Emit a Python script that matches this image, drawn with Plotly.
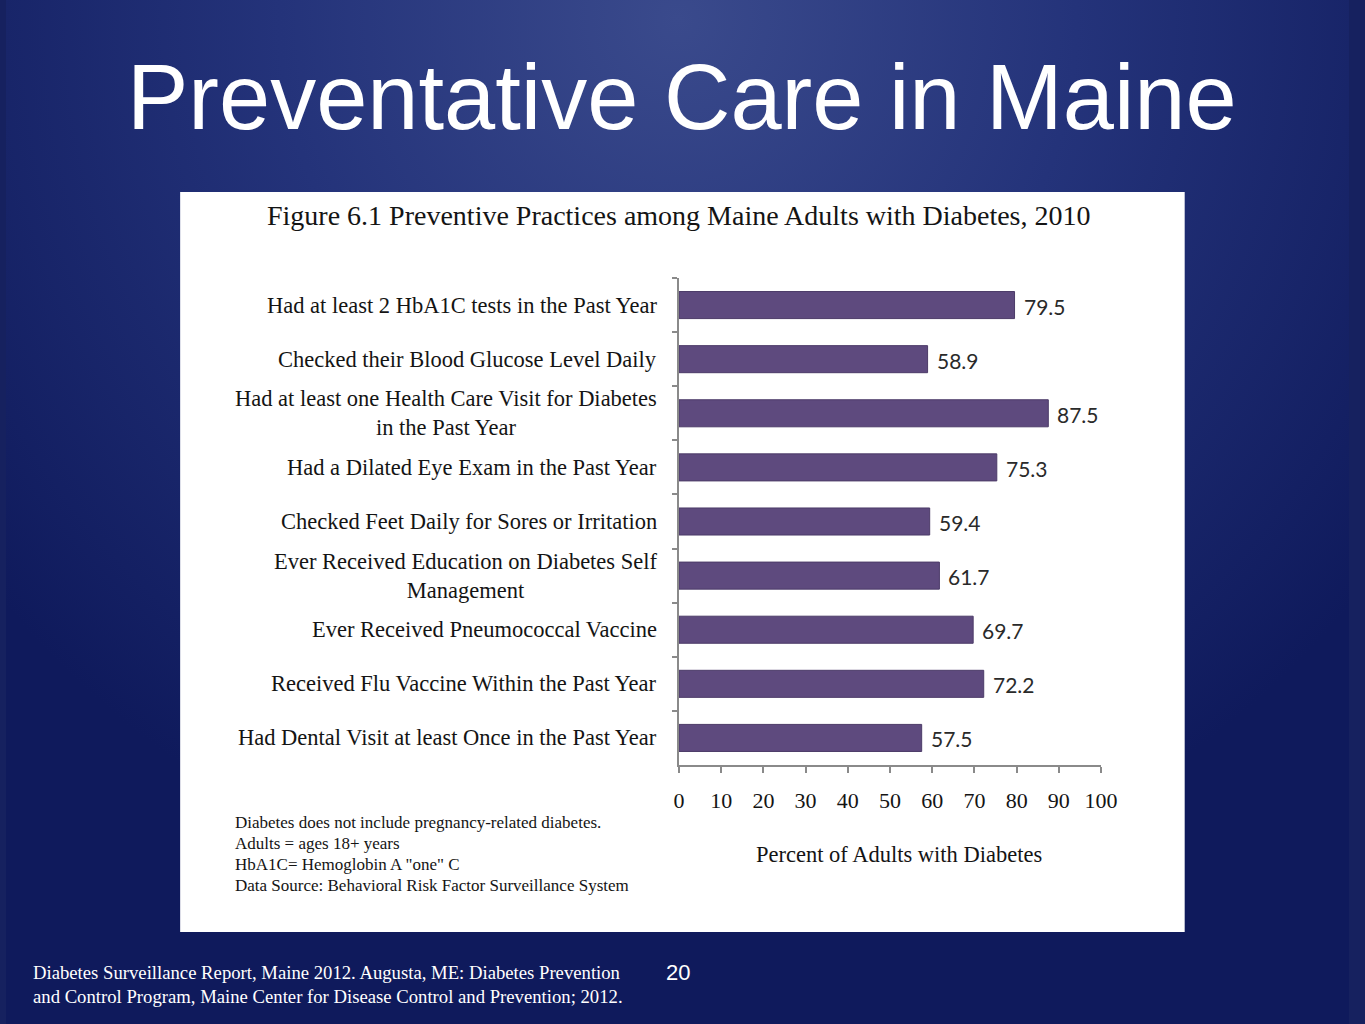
import base64
import plotly.graph_objects as go

categories = [
    "Had at least 2 HbA1C tests in the Past Year",
    "Checked their Blood Glucose Level Daily",
    "Had at least one Health Care Visit for Diabetes<br>in the Past Year",
    "Had a Dilated Eye Exam in the Past Year",
    "Checked Feet Daily for Sores or Irritation",
    "Ever Received Education on Diabetes Self<br>Management",
    "Ever Received Pneumococcal Vaccine",
    "Received Flu Vaccine Within the Past Year",
    "Had Dental Visit at least Once in the Past Year",
]
values = [79.5, 58.9, 87.5, 75.3, 59.4, 61.7, 69.7, 72.2, 57.5]
x_ticks = [0, 10, 20, 30, 40, 50, 60, 70, 80, 90, 100]
notes = [
    "Diabetes does not include pregnancy-related diabetes.",
    "Adults = ages 18+ years",
    'HbA1C= Hemoglobin A "one" C',
    "Data Source: Behavioral Risk Factor Surveillance System",
]

W, H = 1365, 1024
def px(x):
    return x / W
def py(y):
    return 1 - y / H

SERIF = "Liberation Serif, Times New Roman, serif"
SANS = "Liberation Sans, Arial, sans-serif"
INK = "#141414"

svg = f'''<svg xmlns="http://www.w3.org/2000/svg" width="{W}" height="{H}">
<defs><radialGradient id="g" cx="683" cy="20" r="900" gradientUnits="userSpaceOnUse">
<stop offset="0" stop-color="#3a4a8c"/><stop offset="0.45" stop-color="#24337a"/>
<stop offset="1" stop-color="#0f1a5c"/></radialGradient></defs>
<rect width="{W}" height="{H}" fill="url(#g)"/></svg>'''
bg_uri = "data:image/svg+xml;base64," + base64.b64encode(svg.encode()).decode()

fig = go.Figure()
fig.add_trace(go.Bar(
    x=values, y=categories, orientation="h",
    marker=dict(color="#5e4a7e", line=dict(color="#4c3b68", width=1)),
    width=0.5, hoverinfo="skip",
))

annotations = []
for c in categories:
    annotations.append(dict(
        x=px(664), y=c, xref="paper", yref="y", xanchor="right", yanchor="middle",
        text=c, align="center", showarrow=False,
        font=dict(family=SERIF, size=22.5, color=INK),
    ))
for c, v in zip(categories, values):
    annotations.append(dict(
        x=v, y=c, xref="x", yref="y", xanchor="left", yanchor="middle", xshift=7, yshift=-1,
        text=f"{v:.1f}", showarrow=False,
        font=dict(family="Lato, Liberation Sans, sans-serif", size=21, color="#2a2a2a"),
    ))
annotations.append(dict(
    x=px(684), y=py(215), xref="paper", yref="paper", xanchor="center", yanchor="middle",
    text="Figure 6.1 Preventive Practices among Maine Adults with Diabetes, 2010",
    showarrow=False, font=dict(family=SERIF, size=28, color=INK),
))
annotations.append(dict(
    x=px(908), y=py(854), xref="paper", yref="paper", xanchor="center", yanchor="middle",
    text="Percent of Adults with Diabetes", showarrow=False,
    font=dict(family=SERIF, size=22.5, color=INK),
))
for i, n in enumerate(notes):
    annotations.append(dict(
        x=px(231), y=py(822 + 21 * i), xref="paper", yref="paper", xanchor="left", yanchor="middle",
        text=n, showarrow=False, font=dict(family=SERIF, size=17, color=INK),
    ))
annotations.append(dict(
    x=px(687), y=py(97), xref="paper", yref="paper", xanchor="center", yanchor="middle",
    text="Preventative Care in Maine", showarrow=False,
    font=dict(family=SANS, size=92, color="white"),
))
annotations.append(dict(
    x=px(25), y=py(984), xref="paper", yref="paper", xanchor="left", yanchor="middle",
    text="Diabetes Surveillance Report, Maine 2012. Augusta, ME: Diabetes Prevention<br>"
         "and Control Program, Maine Center for Disease Control and Prevention; 2012.",
    align="left", showarrow=False, font=dict(family=SERIF, size=18.7, color="white"),
))
annotations.append(dict(
    x=px(683), y=py(972), xref="paper", yref="paper", xanchor="center", yanchor="middle",
    text="20", showarrow=False, font=dict(family=SANS, size=22, color="white"),
))

fig.update_layout(
    autosize=True, margin=dict(l=0, r=0, t=0, b=0),
    paper_bgcolor="#16215f", plot_bgcolor="rgba(0,0,0,0)",
    showlegend=False,
    images=[dict(source=bg_uri, xref="paper", yref="paper", x=0, y=1, sizex=1, sizey=1,
                 xanchor="left", yanchor="top", sizing="stretch", layer="below")],
    shapes=[dict(type="rect", xref="paper", yref="paper", x0=px(177), x1=px(1198),
                 y0=py(932), y1=py(192), fillcolor="white", line=dict(width=0), layer="below")],
    annotations=annotations,
    xaxis=dict(domain=[px(684), px(1113)], range=[0, 100], tickvals=x_ticks,
               showgrid=False, zeroline=False, showline=True, linecolor="#8a8a8a", linewidth=1.5,
               ticks="outside", ticklen=6, tickcolor="#8a8a8a", tickwidth=1.5,
               ticklabelstandoff=9,
               tickfont=dict(family=SERIF, size=22, color=INK), fixedrange=True),
    yaxis=dict(domain=[py(765), py(278)], autorange="reversed", categoryorder="array",
               categoryarray=categories, showticklabels=False, showgrid=False, zeroline=False,
               showline=True, linecolor="#8a8a8a", linewidth=1.5, ticks="outside", ticklen=5,
               tickcolor="#8a8a8a", tickwidth=1.5, tickson="boundaries", fixedrange=True),
    bargap=0.5,
)

post = """
var gd = document.getElementById('{plot_id}');
document.documentElement.style.cssText = 'margin:0;padding:0;overflow:hidden;';
document.body.style.cssText = 'margin:0;padding:0;overflow:hidden;';
gd.style.width = window.innerWidth + 'px';
gd.style.height = window.innerHeight + 'px';
Plotly.Plots.resize(gd);
"""

fig.write_html(
    "out.html",
    config={"displayModeBar": False},
    default_width="100%", default_height="100%",
    post_script=post,
)
